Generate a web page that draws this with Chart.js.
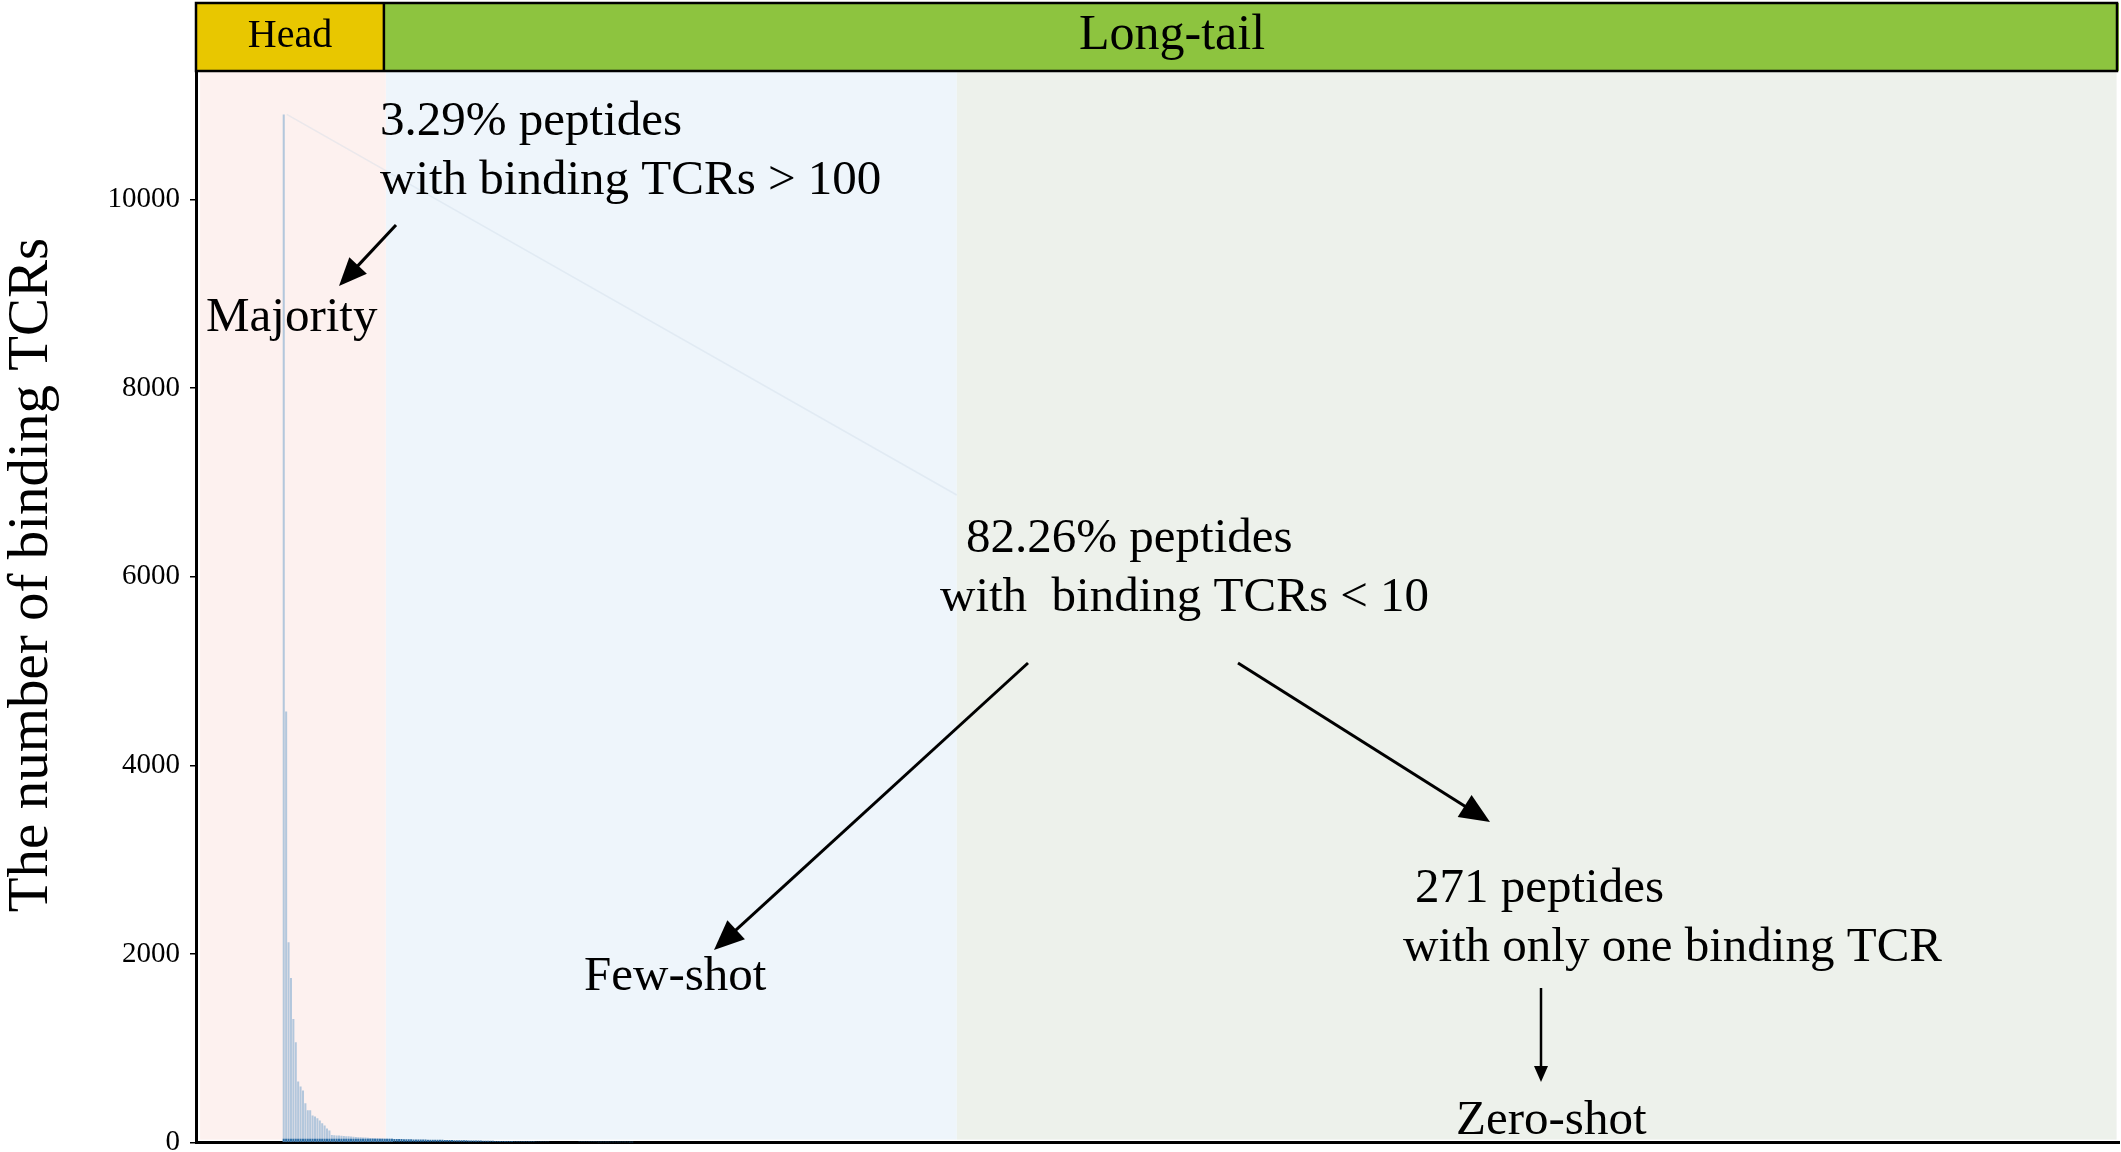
<!DOCTYPE html>
<html><head><meta charset="utf-8">
<script src="https://cdn.jsdelivr.net/npm/chart.js@4/dist/chart.umd.min.js"></script>
<style>html,body{margin:0;padding:0;background:#fff;overflow:hidden;height:1152px}#w{width:2121px;height:1170px}</style>
</head><body><div id="w"><canvas id="c"></canvas></div>
<script>
const numCategories = 800;
const headStart = 36;
const headValues = [10900,4570,2125,1746,1310,1063,648,595,553,418,343,343,287,276,258,234,205,180,150,127,80,78,76,75,72,70,68,66,64,62,60,58,56,55,54,52,50,48,46,45,44,43,42,41,40,40];
const tailStart = 82;
const tailValues = [38,38,37,37,36,36,35,35,34,34,33,33,32,32,31,31,30,30,30,29,29,28,28,27,27,26,26,25,25,24,24,23,23,22,22,21,21,20,20,20,19,19,18,18,18,17,17,16,16,16,15,15,15,14,14,14,13,13,13,12,12,12,11,11,11,10,10,10,10,9,9,9,9,8,8,8,8,7,7,7,7,6,6,6,6,5,5,5,5,5,4,4,4,4,3,3,3,3,2,2];
const regionEdges = [1.7, 79, 316.5, 799];
const regionColors = ['#fdf1ef','#eef5fb','#edf1eb'];
const yTicks = [0,2000,4000,6000,8000,10000];

const labels = [];
for (let i = 0; i < numCategories; i++) labels.push(String(i));
const lightData = new Array(numCategories).fill(null);
headValues.forEach((v,i)=>lightData[headStart+i]=v);
const darkData = new Array(numCategories).fill(null);
headValues.forEach((v,i)=>darkData[headStart+i]=40);
tailValues.forEach((v,i)=>darkData[tailStart+i]=v);

const F = '"Liberation Serif","Times New Roman",serif';

const bgPlugin = {
  id:'bg',
  beforeDatasetsDraw(chart){
    const {ctx, chartArea:a, scales:{x}} = chart;
    const w = x.width/numCategories;
    ctx.save();
    for (let i=0;i<3;i++){
      const x0 = x.left + regionEdges[i]*w, x1 = x.left + regionEdges[i+1]*w;
      ctx.fillStyle = regionColors[i];
      ctx.fillRect(x0, a.top, x1-x0, a.bottom-a.top-3);
    }
    ctx.strokeStyle='rgba(200,215,230,0.35)'; ctx.lineWidth=1.5;
    ctx.beginPath(); ctx.moveTo(x.getPixelForValue(headStart)+3, chart.scales.y.getPixelForValue(headValues[0]));
    ctx.lineTo(x.left+316.5*w, 495); ctx.stroke();
    ctx.restore();
  },
  afterDraw(chart){
    const {ctx, chartArea:a, scales:{x}} = chart;
    const w = x.width/numCategories;
    const hx = x.left + regionEdges[1]*w - 2;
    ctx.save();
    ctx.fillStyle='#e8c700'; ctx.fillRect(a.left, 3, hx-a.left, 68);
    ctx.fillStyle='#8dc43f'; ctx.fillRect(hx, 3, a.right-hx, 68);
    ctx.strokeStyle='#000'; ctx.lineWidth=2.5;
    ctx.strokeRect(a.left, 3, a.right-a.left-2, 68);
    ctx.beginPath(); ctx.moveTo(hx,3); ctx.lineTo(hx,71); ctx.stroke();
    ctx.fillStyle='#000'; ctx.textBaseline='middle'; ctx.textAlign='center';
    ctx.font='40px '+F; ctx.fillText('Head',(a.left+hx)/2,36);
    ctx.font='50px '+F; ctx.fillText('Long-tail',1172,36);
    ctx.textAlign='left'; ctx.textBaseline='alphabetic'; ctx.font='49px '+F;
    const t=(s,x,y)=>ctx.fillText(s,x,y);
    t('3.29% peptides',380,135); t('with binding TCRs > 100',380,194);
    t('Majority',206,331);
    t('82.26% peptides',966,552); t('with  binding TCRs < 10',940,611);
    t('Few-shot',584,990);
    t('271 peptides',1415,902); t('with only one binding TCR',1403,961);
    t('Zero-shot',1456,1134);
    const arrow=(x0,y0,x1,y1,hl,hw,lw)=>{
      const ang=Math.atan2(y1-y0,x1-x0);
      ctx.lineWidth=lw; ctx.strokeStyle='#000';
      ctx.beginPath(); ctx.moveTo(x0,y0);
      ctx.lineTo(x1-Math.cos(ang)*hl*0.8,y1-Math.sin(ang)*hl*0.8); ctx.stroke();
      ctx.beginPath(); ctx.moveTo(x1,y1);
      ctx.lineTo(x1-Math.cos(ang)*hl-Math.sin(ang)*hw, y1-Math.sin(ang)*hl+Math.cos(ang)*hw);
      ctx.lineTo(x1-Math.cos(ang)*hl+Math.sin(ang)*hw, y1-Math.sin(ang)*hl-Math.cos(ang)*hw);
      ctx.closePath(); ctx.fill();
    };
    arrow(396,225,339,286,28,12,3);
    arrow(1028,663,714,950,30,13,3);
    arrow(1238,663,1490,822,30,13,3);
    arrow(1541,988,1541,1082,16,7,2.5);
    ctx.save(); ctx.translate(32, 575); ctx.rotate(-Math.PI/2);
    ctx.textAlign='center'; ctx.textBaseline='middle'; ctx.font='57px '+F;
    ctx.fillText('The number of binding TCRs',0,0); ctx.restore();
    ctx.restore();
  }
};

new Chart(document.getElementById('c'), {
  type:'bar',
  data:{labels, datasets:[
    {data:darkData, backgroundColor:'#2f6fa6', barPercentage:0.85, categoryPercentage:1, grouped:false, order:0},
    {data:lightData, backgroundColor:'#b3c7dc', barPercentage:0.85, categoryPercentage:1, grouped:false, order:1}
  ]},
  options:{
    responsive:true, maintainAspectRatio:false, animation:false,
    layout:{padding:{top:72, right:2, bottom:0, left:0}},
    plugins:{legend:{display:false}, tooltip:{enabled:false}},
    scales:{
      x:{afterFit(s){ s.height = 8; }, ticks:{display:false}, grid:{display:false}, border:{display:true,color:'#000',width:3}},
      y:{min:0, max:11350,
         afterFit(s){ s.width = 196; },
         afterBuildTicks(s){ s.ticks = yTicks.map(v=>({value:v})); },
         ticks:{color:'#000', font:{family:F,size:29}, padding:10, callback:v=>String(v)},
         grid:{drawOnChartArea:false, color:'#000', tickLength:6, lineWidth:1.5},
         border:{display:true,color:'#000',width:3}}
    }
  },
  plugins:[bgPlugin]
});
</script></body></html>
